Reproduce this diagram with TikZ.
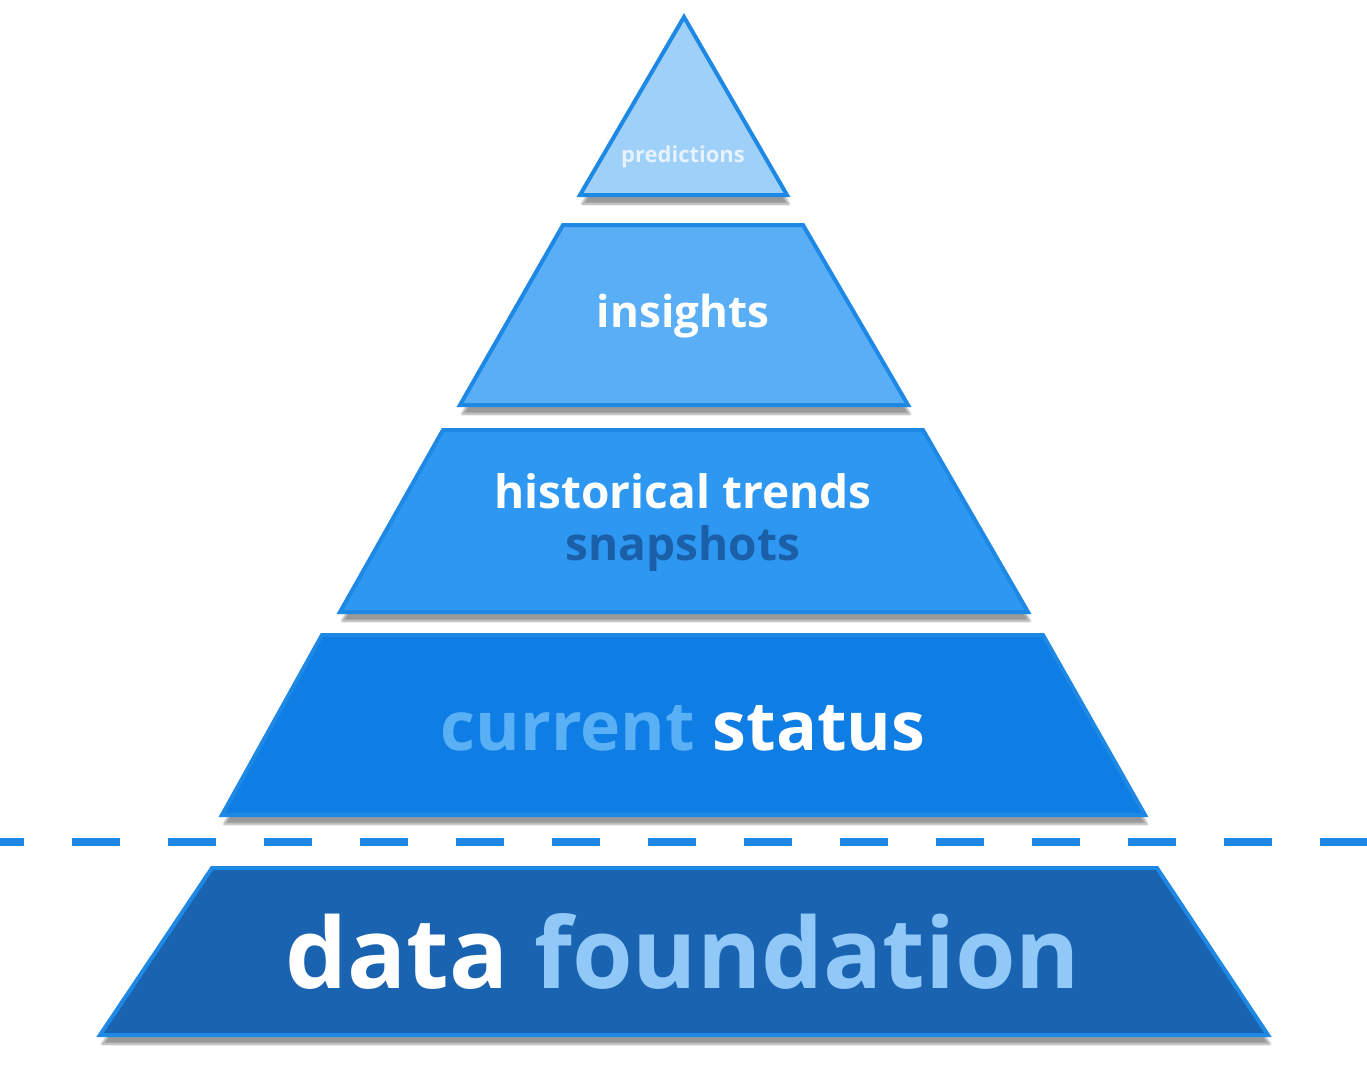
\documentclass[tikz,border=0pt]{standalone}
\usepackage{fontspec}
\setmainfont{Open Sans}
\usetikzlibrary{shadows.blur}
\definecolor{edge}{HTML}{1E88E5}
\definecolor{c1}{HTML}{9FD0F8}
\definecolor{c2}{HTML}{5AAEF5}
\definecolor{c3}{HTML}{2D97F2}
\definecolor{c4}{HTML}{0E7DE4}
\definecolor{c5}{HTML}{1A63B0}
\definecolor{snap}{HTML}{1A5FA8}
\definecolor{curr}{HTML}{5AB0F5}
\definecolor{found}{HTML}{90C8F8}
\definecolor{pred}{HTML}{E6F2FD}
\tikzset{layer/.style={draw=edge,line width=4pt,line join=miter,
  blur shadow={shadow blur steps=6,shadow xshift=2pt,shadow yshift=-9pt,shadow opacity=40}},
  lbl/.style={font=\bfseries,inner sep=0pt,anchor=base}}
\begin{document}
\begin{tikzpicture}[x=1pt,y=-1pt]
\useasboundingbox (0,0) rectangle (1367,1070);
\path[layer,fill=c1] (684,17) -- (787,195) -- (580,195) -- cycle;
\path[layer,fill=c2] (563,225) -- (803,225) -- (908,405) -- (460,405) -- cycle;
\path[layer,fill=c3] (443,430) -- (923,430) -- (1028,612) -- (340,612) -- cycle;
\path[layer,fill=c4] (322,635) -- (1043,635) -- (1145,815) -- (222,815) -- cycle;
\path[layer,fill=c5] (212,868) -- (1157,868) -- (1268,1035) -- (100,1035) -- cycle;
\draw[edge,line width=8pt,dash pattern=on 48pt off 48pt,dash phase=24pt] (0,842) -- (1367,842);
\node[lbl,text=pred,font=\bfseries\fontsize{22}{26}\selectfont] (p) at (683,162) {predictions};
\node[lbl,text=white,font=\bfseries\fontsize{44}{50}\selectfont] (i) at (683,327) {insights};
\node[lbl,text=white,font=\bfseries\fontsize{46}{52}\selectfont] (h) at (683,508) {historical trends};
\node[lbl,text=snap,font=\bfseries\fontsize{46}{52}\selectfont] (s) at (683,560) {snapshots};
\node[lbl,font=\bfseries\fontsize{68}{76}\selectfont] (c) at (683,750) {\textcolor{curr}{current} \textcolor{white}{status}};
\node[lbl,font=\bfseries\fontsize{98}{110}\selectfont] (d) at (683,988) {\textcolor{white}{data} \textcolor{found}{foundation}};
\end{tikzpicture}
\end{document}
